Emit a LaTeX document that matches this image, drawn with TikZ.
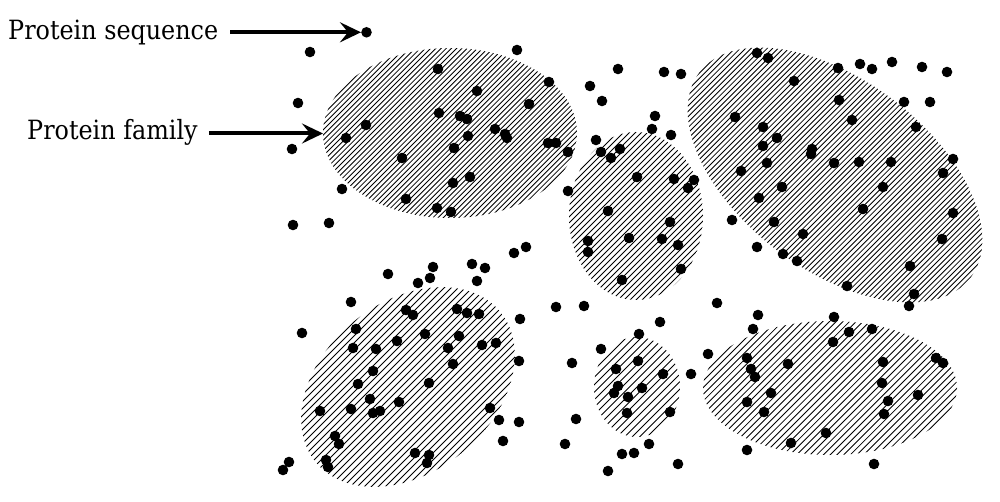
\documentclass[tikz,border=0pt]{standalone}
\usepackage{fontspec}
\newfontfamily\labfont{DejaVu Serif}[FakeStretch=0.9]
\usetikzlibrary{arrows.meta}
\newcommand\hatchell[6]{%
  \begin{scope}
    \clip[rotate around={#5:(#1,#2)}] (#1,#2) ellipse [x radius=#3, y radius=#4];
    \foreach \k in {-55,...,55} {
      \draw[hatchline] (#1+\k*#6+260,#2-260) -- (#1+\k*#6-260,#2+260);
    }
  \end{scope}}
\begin{document}
\begin{tikzpicture}[x=1pt,y=-1pt,
  dot/.style={circle,fill=black,inner sep=0pt,minimum size=10.6pt},
  arr/.style={line width=4pt,-{Stealth[length=21pt,width=20pt,inset=8pt]}},
  hatchline/.style={line width=0.85pt,black},
  lab/.style={font=\labfont\fontsize{26.5}{30}\selectfont,inner sep=0pt,anchor=base west}]
\useasboundingbox[fill=white] (0,0) rectangle (1000,502);

% hatched families
\hatchell{450}{133}{127}{85}{0}{5.2}
\hatchell{636}{216}{67}{84}{0}{6.0}
\hatchell{835}{175}{170}{95}{-37}{5.4}
\hatchell{408}{387}{119}{85}{39}{7.0}
\hatchell{637}{387}{43}{50}{0}{7.5}
\hatchell{830}{388}{127}{67}{0}{6.7}

% sequences
\node[dot] (seq) at (366.5,32.3) {};
\foreach \x/\y [count=\i] in {
310/52,298/103,292/149,293/225,329/223,342/189,
517/50,438/69,549/82,477/91,529/104,439/113,460/116,467/119,366/125,346/138,
495/129,505/134,507/138,468/136,548/143,556/143,568/152,454/148,402/158,
470/177,453/183,568/191,406/199,437/208,451/212,526/247,514/253,
618/69,664/72,681/74,590/86,602/101,655/116,652/129,671/135,596/140,601/152,
611/158,620/149,637/177,674/179,694/180,688/188,608/211,670/222,588/241,
588/252,629/238,662/239,678/245,681/269,622/280,556/307,584/306,717/303,
757/53,768/58,794/81,838/68,860/64,872/69,892/62,922/67,947/72,839/100,
904/102,930/102,852/120,735/117,763/127,777/138,916/127,763/146,812/149,
811/154,767/163,741/171,834/163,859/162,891/162,953/159,943/173,782/187,
883/187,759/198,863/209,953/213,732/220,774/222,803/234,942/239,757/247,
783/254,797/261,910/266,847/286,914/294,909/306,
388/274,433/267,430/278,418/283,472/264,485/268,477/281,351/302,302/333,
406/310,413/315,457/309,467/313,479/314,520/319,356/329,425/334,459/336,
397/341,376/349,353/348,448/348,482/345,496/343,519/361,373/371,453/364,
358/384,429/383,370/399,399/402,320/411,351/409,373/413,380/411,490/408,
499/420,519/422,503/441,335/436,339/444,415/453,429/455,427/463,326/460,
328/467,289/462,283/470,
660/322,639/334,601/349,572/363,638/361,616/369,663/374,691/374,708/354,
618/386,614/393,642/388,628/397,627/413,670/412,576/419,565/444,649/444,
622/454,634/453,678/464,608/471,
758/315,753/329,834/317,849/332,872/329,833/342,747/358,751/369,755/377,
788/364,883/362,936/358,943/363,882/383,771/393,747/402,918/395,888/401,
764/412,884/414,826/433,791/443,747/450,874/464}
  {\node[dot] (p\i) at (\x,\y) {};}

% labels and arrows
\node[lab] (lseq) at (8,39.5) {Protein sequence};
\node[lab] (lfam) at (27,140) {Protein family};
\coordinate (fam) at (323,133.5);
\path (lseq.east) ++(12,0) coordinate (t1);
\path (lfam.east) ++(11,0) coordinate (t2);
\draw[arr] (t1 |- seq) -- (seq);
\draw[arr] (t2 |- fam) -- (fam);
\end{tikzpicture}
\end{document}
